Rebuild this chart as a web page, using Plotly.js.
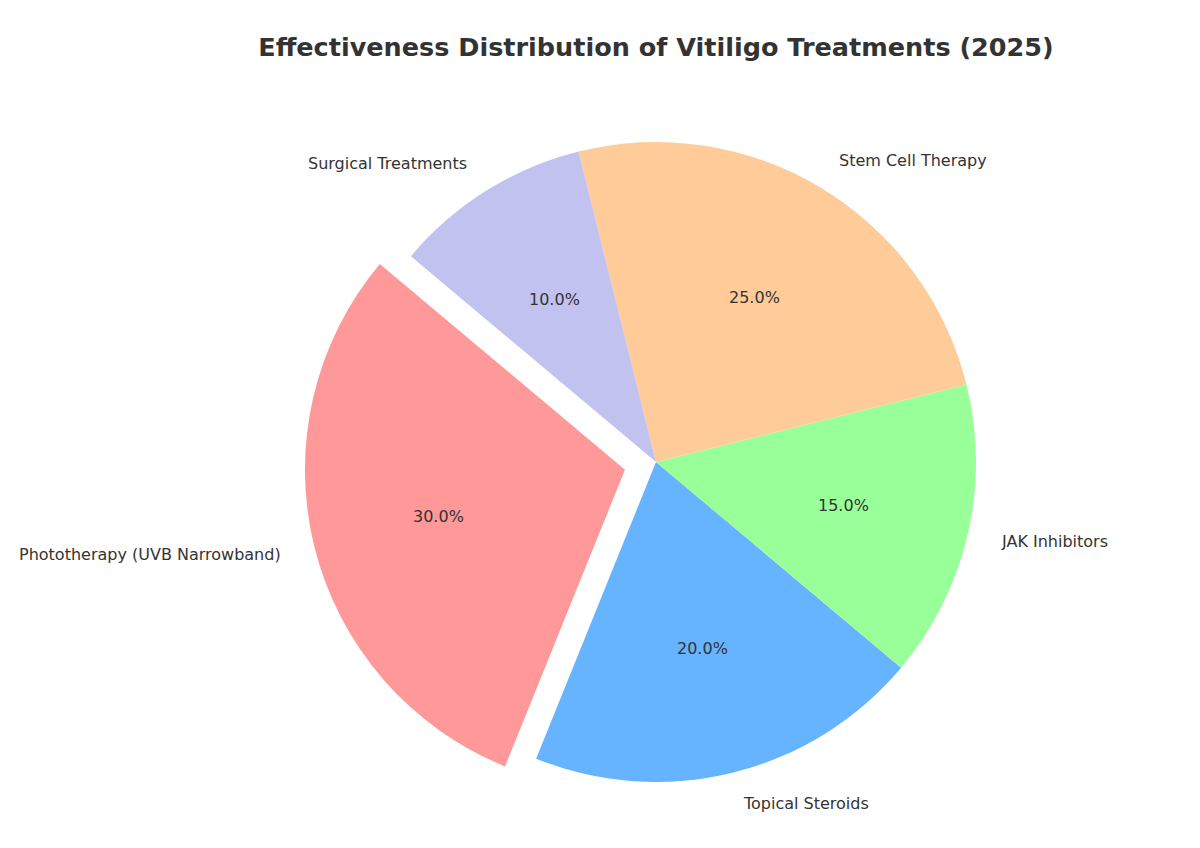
<!DOCTYPE html>
<html>
<head>
<meta charset="utf-8">
<script src="https://cdn.plot.ly/plotly-3.0.1.min.js"></script>
<style>
  html, body { margin: 0; padding: 0; background: #ffffff; }
  #chart { width: 1200px; height: 848px; }
</style>
</head>
<body>
<div id="chart"></div>
<script>
// Treatment categories and their share of effectiveness
const treatments = [
  'Phototherapy (UVB Narrowband)',
  'Topical Steroids',
  'JAK Inhibitors',
  'Stem Cell Therapy',
  'Surgical Treatments'
];
const shares = [30, 20, 15, 25, 10];
const sliceColors = ['#ff9999', '#66b3ff', '#99ff99', '#ffcc99', '#c2c2f0'];
const explode = [0.1, 0, 0, 0, 0];

// Page geometry
const W = 1200, H = 848;
const cx = 656, cy = 462, R = 320;      // pie centre and radius in pixels
const startAngle = 140;                 // degrees, counterclockwise from 3 o'clock
const labelDist = 1.1, pctDist = 0.6;
const textColor = '#333333';
const fontFamily = 'DejaVu Sans, sans-serif';

// Plotly shrinks the radius by (1 + max pull); size the domain box accordingly
const maxPull = Math.max(...explode);
const half = R * (1 + maxPull);
const domain = {
  x: [(cx - half) / W, (cx + half) / W],
  y: [1 - (cy + half) / H, 1 - (cy - half) / H]
};

// Labels outside each wedge and percentages inside, placed along each bisector
const total = shares.reduce((a, b) => a + b, 0);
const annotations = [];
let theta = startAngle;
shares.forEach((v, i) => {
  const span = 360 * v / total;
  const mid = (theta + span / 2) * Math.PI / 180;
  const ux = Math.cos(mid), uy = Math.sin(mid);
  const off = explode[i] * R;
  const lx = cx + (off + labelDist * R) * ux;
  const ly = cy - (off + labelDist * R) * uy;
  const px = cx + (off + pctDist * R) * ux;
  const py = cy - (off + pctDist * R) * uy;
  annotations.push({
    text: treatments[i], xref: 'paper', yref: 'paper',
    x: lx / W, y: 1 - ly / H,
    xanchor: ux > 0 ? 'left' : 'right', yanchor: 'middle',
    showarrow: false,
    font: { family: fontFamily, size: 16, color: textColor }
  });
  annotations.push({
    text: (100 * v / total).toFixed(1) + '%', xref: 'paper', yref: 'paper',
    x: px / W, y: 1 - py / H,
    xanchor: 'center', yanchor: 'middle',
    showarrow: false,
    font: { family: fontFamily, size: 16, color: textColor }
  });
  theta += span;
});

// In counterclockwise mode Plotly's rotation marks where the first slice ends
const firstEnd = startAngle + 360 * shares[0] / total;

const data = [{
  type: 'pie',
  labels: treatments,
  values: shares,
  pull: explode,
  sort: false,
  direction: 'counterclockwise',
  rotation: 90 - firstEnd,
  marker: { colors: sliceColors, line: { width: 0 } },
  textinfo: 'none',
  hoverinfo: 'label+percent',
  domain: domain,
  showlegend: false
}];

const layout = {
  width: W,
  height: H,
  margin: { l: 0, r: 0, t: 0, b: 0 },
  paper_bgcolor: '#ffffff',
  showlegend: false,
  title: {
    text: '<b>Effectiveness Distribution of Vitiligo Treatments (2025)</b>',
    x: cx / W, xanchor: 'center',
    y: 1 - 47 / H, yanchor: 'middle',
    font: { family: fontFamily, size: 25.5, color: textColor }
  },
  annotations: annotations
};

Plotly.newPlot('chart', data, layout, { displayModeBar: false, staticPlot: true });
</script>
</body>
</html>
